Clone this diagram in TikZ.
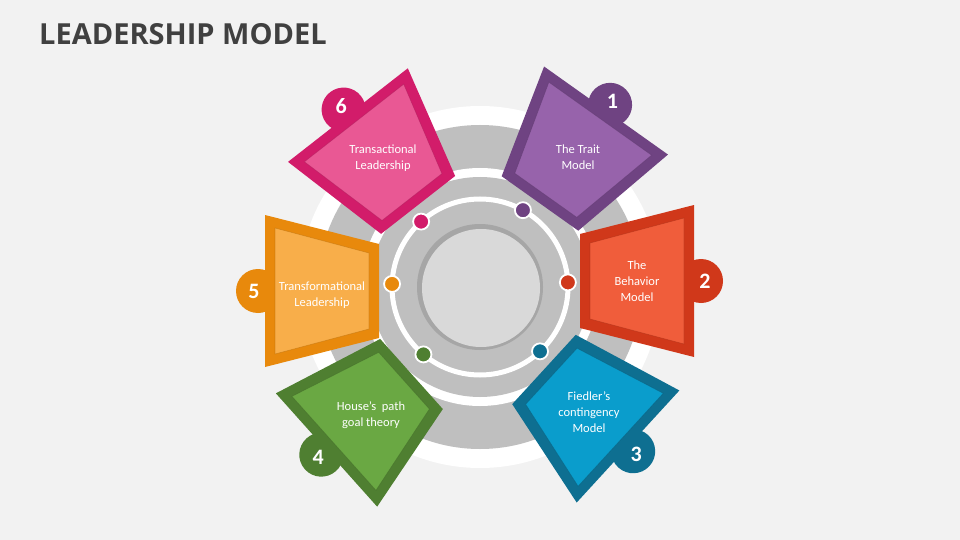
\documentclass[tikz,border=0pt]{standalone}
\usepackage{fontspec}
\setmainfont{Carlito}
\newfontfamily\titlefont{Open Sans}
\definecolor{bg}{HTML}{F2F2F2}
\definecolor{ringgray}{HTML}{BFBFBF}
\definecolor{innergray}{HTML}{D9D9D9}
\definecolor{titlec}{HTML}{404040}
\definecolor{pud}{HTML}{6F4382}\definecolor{pul}{HTML}{9763AB}
\definecolor{red}{HTML}{D0381A}\definecolor{rel}{HTML}{F05D3B}
\definecolor{bld}{HTML}{0E6F91}\definecolor{bll}{HTML}{0A9DCC}
\definecolor{grd}{HTML}{4F7F31}\definecolor{grl}{HTML}{6AA843}
\definecolor{ord}{HTML}{E8890C}\definecolor{orl}{HTML}{F8AE4A}
\definecolor{pid}{HTML}{D21C6A}\definecolor{pil}{HTML}{E95894}
\tikzset{
  numstyle/.style={text=white,font=\bfseries\fontsize{22}{22}\selectfont,inner sep=0pt},
  lbl/.style={text=white,font=\fontsize{12.5}{16}\selectfont,align=center,inner sep=0pt},
  dotc/.style={circle,draw=white,line width=1.8pt,minimum size=16pt,inner sep=0pt},
}
\newcommand\petal[7]{%
\begin{scope}[shift={(#2,-#3)},rotate=#4]
\fill[#5] (64,0) circle (22);
\fill[#5] (57,76)--(57,-76)--(-57,-47)--(-57,47)--cycle;
\fill[#6] (47,63)--(47,-63)--(-47,-38)--(-47,38)--cycle;
\draw[#5!80!black,line width=0.6pt,opacity=0.5] (47,63)--(47,-63)--(-47,-38)--(-47,38)--cycle;
\node[numstyle] (#1) at (68,0) {#7};
\end{scope}}
\begin{document}
\begin{tikzpicture}[x=1pt,y=1pt]
\fill[bg] (0,0) rectangle (960,-540);
\useasboundingbox (0,0) rectangle (960,-540);
\node[anchor=west,text=titlec,font=\titlefont\bfseries\fontsize{29}{29}\selectfont,inner sep=0pt] (title) at (39,-34) {LEADERSHIP MODEL};
\coordinate (c) at (480,-287);
\fill[white] (c) circle (181);
\fill[ringgray] (c) circle (162);
\fill[white] (c) circle (119);
\fill[ringgray] (c) circle (110);
\draw[white,line width=5pt] (c) circle (88);
\fill[gray!70] (c) circle (63);
\fill[innergray] ([shift={(1,-1)}]c) circle (59);
% petals
\petal{n1}{573}{157}{54.6}{pud}{pul}{1}
\petal{n2}{637}{281}{0}{red}{rel}{2}
\petal{n3}{586}{408}{-42.5}{bld}{bll}{3}
\petal{n4}{369}{412}{221.8}{grd}{grl}{4}
\petal{n5}{322}{291}{180}{ord}{orl}{5}
\petal{n6}{383}{160}{128}{pid}{pil}{6}
% dots
\node[dotc,fill=pud] (d1) at ([shift={(60.8:88)}]c) {};
\node[dotc,fill=red] (d2) at ([shift={(3:88)}]c) {};
\node[dotc,fill=bld] (d3) at ([shift={(-47:88)}]c) {};
\node[dotc,fill=grd] (d4) at ([shift={(230:88)}]c) {};
\node[dotc,fill=ord] (d5) at ([shift={(178:88)}]c) {};
\node[dotc,fill=pid] (d6) at ([shift={(132:88)}]c) {};
% labels
\node[lbl] (t1) at (578,-157) {The Trait\\Model};
\node[lbl] (t2) at (637,-281) {The\\Behavior\\Model};
\node[lbl] (t3) at (589,-412) {Fiedler’s\\contingency\\Model};
\node[lbl] (t4) at (371,-415) {House’s\ \ path\\goal theory};
\node[lbl] (t5) at (322,-295) {Transformational\\Leadership};
\node[lbl] (t6) at (383,-158) {Transactional\\Leadership};
\end{tikzpicture}
\end{document}
